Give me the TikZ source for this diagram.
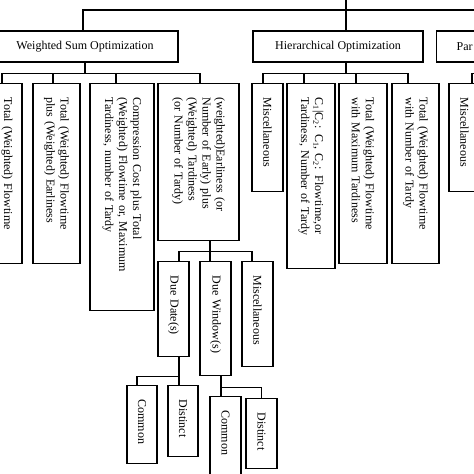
\documentclass[tikz,border=0pt]{standalone}
\usepackage{fontspec}
\setmainfont{Liberation Serif}
\begin{document}
\begin{tikzpicture}[x=1pt, y=-1pt,
    box/.style={draw, line width=1.2pt, font=\fontsize{12}{14}\selectfont},
    hbox/.style={box, minimum height=31pt, inner sep=0pt},
    vbox/.style={box, rotate=-90, anchor=west, align=left, inner xsep=14pt, inner ysep=0pt},
    link/.style={line width=1.2pt}]
    \useasboundingbox (0,0) rectangle (474,474);

    \node [hbox, minimum width=186pt] (ws) at (85,46.5) {Weighted Sum Optimization};
    \node [hbox, minimum width=170pt] (ho) at (338,46.5) {Hierarchical Optimization};
    \node [hbox, anchor=west, text width=60pt, inner xsep=20pt, align=left] (po) at (436,46.5) {Par};
    \coordinate (top) at (346,0);
    \coordinate (far) at (480,10);

    % weighted sum
    \node [vbox, text width=152pt, minimum height=30pt] (w1) at (7,83) {Total (Weighted) Flowtime};
    \node [vbox, text width=152pt, minimum height=47pt] (w2) at (56.5,83)
      {Total (Weighted) Flowtime\\plus (Weighted) Earliness};
    \node [vbox, text width=199pt, minimum height=64pt] (w3) at (122,83)
      {Compression Cost plus Total\\(Weighted) Flowtime or, Maximum\\Tardiness, number of Tardy};
    \node [vbox, text width=129pt, minimum height=81pt] (w4) at (198.5,83)
      {(weighted)Earliness (or\\Number of Early) plus\\(Weighted) Tardiness\\(or Number of Tardy)};

    % due dates
    \node [vbox, text width=67pt, minimum height=31pt] (dd) at (173.5,261) {Due Date(s)};
    \node [vbox, text width=86pt, minimum height=31pt] (dw) at (215.5,261) {Due Window(s)};
    \node [vbox, text width=77pt, minimum height=31pt] (dm) at (257.5,261) {Miscellaneous};
    \node [vbox, text width=50pt, minimum height=30pt] (c1) at (142,385) {Common};
    \node [vbox, text width=43pt, minimum height=30pt] (s1) at (183,385) {Distinct};
    \node [vbox, text width=72pt, minimum height=31pt] (c2) at (225.5,396) {Common};
    \node [vbox, text width=42pt, minimum height=31pt] (s2) at (261.5,398) {Distinct};

    % hierarchical
    \node [vbox, text width=80pt, minimum height=31pt] (hm) at (267.5,83) {Miscellaneous};
    \node [vbox, text width=157pt, minimum height=48pt] (hc) at (311,83)
      {C\textsubscript{1}|C\textsubscript{2}: C\textsubscript{1}, C\textsubscript{2}: Flowtime,or\\Tardiness, Number of Tardy};
    \node [vbox, text width=152pt, minimum height=48pt] (ht) at (363,83)
      {Total (Weighted) Flowtime\\with Maximum Tardiness};
    \node [vbox, text width=152pt, minimum height=47pt] (hn) at (415.5,83)
      {Total (Weighted) Flowtime\\with Number of Tardy};
    \node [vbox, text width=80pt, minimum height=31pt] (pm) at (464.5,83) {Miscellaneous};

    \draw [link] ([xshift=-2pt]ws.north) |- (far);
    \draw [link] (top) -- (top |- ho.north);

    \draw [link] (ws.south) -- ++(0,10.5) -| ([xshift=-5pt]w1.west);
    \draw [link] (ws.south) -- ++(0,10.5) -| ([xshift=-3.5pt]w2.west);
    \draw [link] (ws.south) -- ++(0,10.5) -| ([xshift=-6pt]w3.west);
    \draw [link] (ws.south) -- ++(0,10.5) -| ([xshift=1.5pt]w4.west);

    \draw [link] ([xshift=11.5pt]w4.east) -- ++(0,10) -| ([xshift=5.5pt]dd.west);
    \draw [link] ([xshift=11.5pt]w4.east) -- ++(0,10) -| ([xshift=-5.5pt]dw.west);
    \draw [link] ([xshift=11.5pt]w4.east) -- ++(0,10) -| ([xshift=-5.5pt]dm.west);

    \draw [link] ([xshift=5.5pt]dd.east) -- ++(0,19) -| ([xshift=-5pt]c1.west);
    \draw [link] ([xshift=5.5pt]dd.east) -- ++(0,19) -| ([xshift=-4pt]s1.west);
    \draw [link] ([xshift=5.5pt]dw.east) -- ++(0,11) -| ([xshift=-4.5pt]c2.west);
    \draw [link] ([xshift=5.5pt]dw.east) -- ++(0,11) -| (s2.west);

    \draw [link] ([xshift=8pt]ho.south) -- ++(0,10.5) -| ([xshift=-4.5pt]hm.west);
    \draw [link] ([xshift=8pt]ho.south) -- ++(0,10.5) -| ([xshift=-7pt]hc.west);
    \draw [link] ([xshift=8pt]ho.south) -- ++(0,10.5) -| ([xshift=-7pt]ht.west);
    \draw [link] ([xshift=8pt]ho.south) -- ++(0,10.5) -| ([xshift=-7.5pt]hn.west);
    \draw [link] (po.south) -- ++(0,10.5) -| ([xshift=7.5pt]pm.west);
  \end{tikzpicture}
\end{document}
